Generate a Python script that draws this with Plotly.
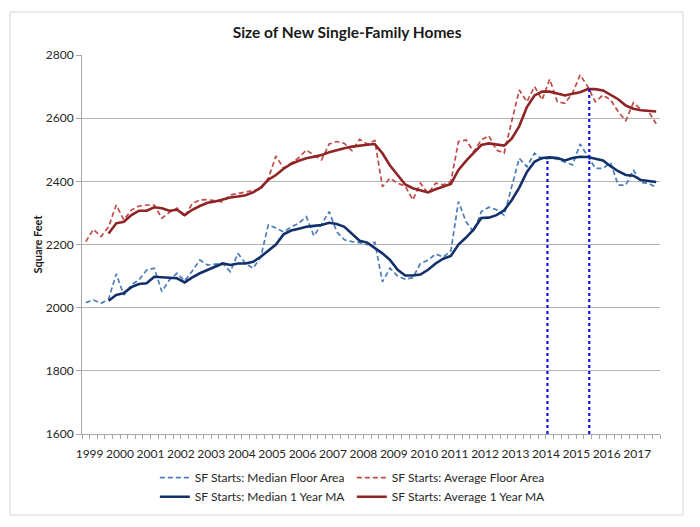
import plotly.graph_objects as go

# ---------------- data (quarterly, 1999 Q1 .. 2017 Q4) ----------------
years = list(range(1999, 2018))

median_floor = [
    2016, 2024, 2014, 2027, 2107, 2040, 2072, 2088, 2119, 2125,
    2051, 2088, 2109, 2085, 2116, 2151, 2135, 2138, 2140, 2114,
    2172, 2140, 2125, 2160, 2262, 2252, 2240, 2255, 2267, 2288,
    2227, 2265, 2304, 2240, 2215, 2209, 2206, 2200, 2207, 2082,
    2125, 2100, 2090, 2095, 2140, 2150, 2170, 2160, 2180, 2336,
    2272, 2240, 2304, 2318, 2310, 2293, 2380, 2473, 2446, 2489,
    2470, 2473, 2470, 2460, 2452, 2518, 2480, 2441, 2441, 2459,
    2388, 2388, 2436, 2396, 2394, 2381]

average_floor = [
    2209, 2248, 2225, 2256, 2325, 2278, 2309, 2322, 2325, 2325,
    2283, 2302, 2315, 2288, 2330, 2341, 2342, 2338, 2335, 2357,
    2362, 2367, 2370, 2375, 2410, 2480, 2442, 2457, 2475, 2499,
    2483, 2468, 2518, 2526, 2520, 2497, 2533, 2518, 2529, 2383,
    2410, 2394, 2385, 2341, 2394, 2362, 2394, 2389, 2399, 2526,
    2531, 2494, 2531, 2544, 2499, 2489, 2590, 2689, 2652, 2700,
    2658, 2723, 2652, 2647, 2679, 2737, 2700, 2652, 2673, 2658,
    2621, 2592, 2649, 2628, 2621, 2582]

median_ma = [None, None, None,
    2022, 2040, 2046, 2065, 2075, 2077, 2098,
    2096, 2093, 2093, 2080, 2096, 2109, 2119, 2128, 2140, 2135,
    2140, 2140, 2145, 2161, 2180, 2200, 2232, 2244, 2250, 2256,
    2259, 2262, 2269, 2265, 2256, 2233, 2212, 2206, 2190, 2172,
    2151, 2120, 2102, 2102, 2105, 2120, 2140, 2155, 2164, 2200,
    2222, 2248, 2284, 2285, 2293, 2308, 2340, 2380, 2430, 2462,
    2474, 2476, 2474, 2466, 2474, 2478, 2477, 2472, 2466, 2448,
    2432, 2420, 2418, 2404, 2401, 2398]

average_ma = [None, None, None,
    2235, 2267, 2272, 2293, 2307, 2307, 2318,
    2315, 2307, 2310, 2293, 2310, 2322, 2332, 2336, 2343, 2349,
    2352, 2356, 2365, 2380, 2405, 2420, 2440, 2455, 2465, 2473,
    2478, 2483, 2492, 2499, 2505, 2510, 2514, 2516, 2518, 2489,
    2450, 2420, 2390, 2378, 2372, 2365, 2375, 2383, 2392, 2436,
    2465, 2490, 2515, 2520, 2516, 2513, 2535, 2575, 2635, 2672,
    2684, 2684, 2678, 2672, 2677, 2682, 2692, 2692, 2688, 2675,
    2660, 2640, 2630, 2625, 2623, 2621]

# hand-drawn dotted markers (quarter index position, top value)
marker_pos = [60.7, 66.2]
marker_top = [2474, 2692]

x = list(range(len(median_floor)))
tick_pos = [4 * k + 0.5 for k in range(len(years))]
tick_txt = [str(y) for y in years]

FONT = "Lato"
BLUE_D = "#4a7db8"
RED_D = "#bf4b48"
BLUE_S = "#13306a"
RED_S = "#8e2424"

fig = go.Figure()
fig.add_trace(go.Scatter(x=x, y=median_floor, mode="lines",
                         name="SF Starts: Median Floor Area",
                         line=dict(color=BLUE_D, width=1.7, dash="5px,3px")))
fig.add_trace(go.Scatter(x=x, y=average_floor, mode="lines",
                         name="SF Starts: Average Floor Area",
                         line=dict(color=RED_D, width=1.7, dash="5px,3px")))
fig.add_trace(go.Scatter(x=x, y=median_ma, mode="lines",
                         name="SF Starts: Median 1 Year MA",
                         line=dict(color=BLUE_S, width=2.6)))
fig.add_trace(go.Scatter(x=x, y=average_ma, mode="lines",
                         name="SF Starts: Average 1 Year MA",
                         line=dict(color=RED_S, width=2.6)))
for px, top in zip(marker_pos, marker_top):
    fig.add_trace(go.Scatter(x=[px, px], y=[1600, top], mode="lines",
                             showlegend=False, hoverinfo="skip",
                             line=dict(color="#1010e0", width=2.2, dash="dot")))

# page body has an 8px default margin -> figure is 692x519 placed at (8,8)
fig.update_layout(
    width=692, height=519,
    paper_bgcolor="white", plot_bgcolor="white",
    margin=dict(l=74, r=40, t=47, b=93),
    font=dict(family=FONT, size=12, color="#262626"),
    title=dict(text="<b>Size of New Single-Family Homes</b>",
               x=0.49, xref="container", xanchor="center",
               y=0.952, yref="container", yanchor="middle",
               font=dict(family=FONT, size=15.5, color="#1a1a1a")),
    showlegend=True,
    legend=dict(orientation="h", x=0.126, xanchor="left", y=-0.077, yanchor="top",
                entrywidth=152, font=dict(family=FONT, size=12, color="#262626"),
                bgcolor="rgba(0,0,0,0)", tracegroupgap=0),
    shapes=[dict(type="rect", xref="paper", yref="paper",
                 x0=-0.1246, x1=1.0398, y0=-0.2137, y1=1.1135,
                 line=dict(color="#d6d6d6", width=1), layer="below")],
)

fig.update_xaxes(range=[-0.5, 75.5], tickmode="array", tickvals=tick_pos, ticktext=tick_txt,
                 ticks="", showgrid=False, zeroline=False, ticklabelstandoff=9,
                 showline=True, linecolor="#a6a6a6", linewidth=1,
                 tickfont=dict(family=FONT, size=12, color="#262626"),
                 minor=dict(tick0=-0.5, dtick=1, ticks="outside", ticklen=4,
                            tickcolor="#a6a6a6", tickwidth=1, showgrid=False))
fig.update_yaxes(range=[1600, 2800], dtick=200, tick0=1600,
                 showgrid=True, gridcolor="#b3b3b3", gridwidth=1, zeroline=False,
                 showline=True, linecolor="#a6a6a6", linewidth=1,
                 ticks="outside", ticklen=5, tickcolor="#a6a6a6",
                 tickfont=dict(family=FONT, size=12, color="#262626"),
                 title=dict(text="<b>Square Feet</b>", standoff=0,
                            font=dict(family=FONT, size=11, color="#1a1a1a")))

fig.write_html("out.html")
